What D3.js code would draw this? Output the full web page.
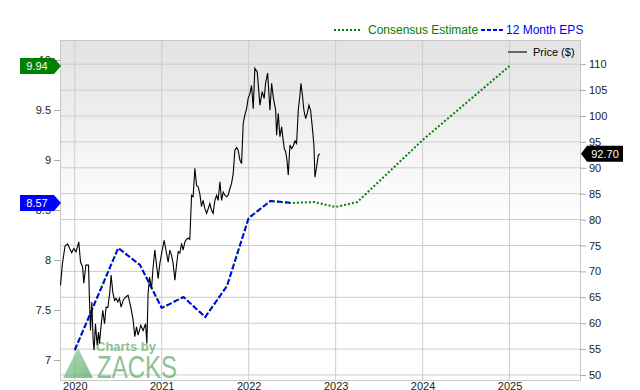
<!DOCTYPE html>
<html>
<head>
<meta charset="utf-8">
<script src="https://cdn.jsdelivr.net/npm/d3@7"></script>
<style>
  body { margin: 0; background: #fff; }
  svg { display: block; font-family: "Liberation Sans", Arial, sans-serif; }
</style>
</head>
<body>
<span></span>
<script>
// tick labels
let years = ["2020", "2021", "2022", "2023", "2024", "2025"];
let yearValues = [2020, 2021, 2022, 2023, 2024, 2025];
let epsTicks = [7, 7.5, 8, 8.5, 9, 9.5, 10];
let priceTicks = [50, 55, 60, 65, 70, 75, 80, 85, 90, 95, 100, 105, 110];

// 12 month EPS (decimal years)
let epsDates = [2020.0, 2020.5, 2020.75, 2021.0, 2021.25, 2021.5, 2021.75, 2022.0, 2022.25, 2022.5];
let epsValues = [7.10, 8.12, 7.95, 7.52, 7.63, 7.43, 7.74, 8.42, 8.59, 8.57];

// consensus estimate
let consensusDates = [2020.0, 2020.5, 2020.75, 2021.0, 2021.25, 2021.5, 2021.75, 2022.0, 2022.25, 2022.5, 2022.75, 2023.0, 2023.25, 2024.0, 2025.0];
let consensusValues = [7.10, 8.12, 7.95, 7.52, 7.63, 7.43, 7.74, 8.42, 8.59, 8.57, 8.58, 8.53, 8.58, 9.20, 9.94];

// price ($)
let priceDates = [
    2019.835, 2019.858, 2019.888, 2019.919, 2019.946, 2019.965, 2019.988, 2020.015, 2020.046, 2020.066,
    2020.089, 2020.104, 2020.127, 2020.158, 2020.169, 2020.181, 2020.196, 2020.211, 2020.222, 2020.238,
    2020.257, 2020.273, 2020.284, 2020.303, 2020.322, 2020.342, 2020.360, 2020.380, 2020.403, 2020.418,
    2020.437, 2020.457, 2020.475, 2020.495, 2020.514, 2020.533, 2020.556, 2020.572, 2020.590, 2020.613,
    2020.644, 2020.671, 2020.690, 2020.710, 2020.728, 2020.759, 2020.786, 2020.814, 2020.829, 2020.843,
    2020.860, 2020.883, 2020.901, 2020.921, 2020.940, 2020.959, 2020.978, 2021.005, 2021.028, 2021.055,
    2021.074, 2021.093, 2021.113, 2021.131, 2021.151, 2021.170, 2021.189, 2021.208, 2021.228, 2021.246,
    2021.266, 2021.285, 2021.304, 2021.323, 2021.343, 2021.361, 2021.381, 2021.400, 2021.419, 2021.438,
    2021.457, 2021.476, 2021.496, 2021.516, 2021.534, 2021.553, 2021.573, 2021.591, 2021.611, 2021.631,
    2021.649, 2021.669, 2021.688, 2021.707, 2021.726, 2021.746, 2021.764, 2021.784, 2021.803, 2021.822,
    2021.841, 2021.861, 2021.879, 2021.899, 2021.918, 2021.937, 2021.956, 2021.976, 2021.994, 2022.014,
    2022.033, 2022.052, 2022.071, 2022.098, 2022.129, 2022.155, 2022.178, 2022.194, 2022.218, 2022.244,
    2022.264, 2022.282, 2022.310, 2022.321, 2022.340, 2022.359, 2022.379, 2022.397, 2022.409, 2022.425,
    2022.440, 2022.455, 2022.474, 2022.494, 2022.512, 2022.532, 2022.551, 2022.570, 2022.589, 2022.601,
    2022.616, 2022.635, 2022.655, 2022.673, 2022.693, 2022.712, 2022.731, 2022.750, 2022.762, 2022.781,
    2022.800, 2022.819
];
let priceValues = [
    67.3, 71.5, 74.9, 75.3, 74.2, 73.6, 74.4, 73.8, 75.7, 71.8,
    70.9, 67.7, 71.2, 71.2, 64.4, 58.6, 64.1, 56.7, 54.8, 59.9,
    55.8, 58.3, 56.1, 59.6, 62.5, 59.9, 63.1, 63.0, 66.0, 69.3,
    66.0, 64.4, 64.8, 64.1, 64.8, 63.1, 64.4, 64.8, 65.1, 65.4,
    63.1, 60.6, 57.4, 59.3, 57.7, 59.6, 58.6, 59.9, 56.1, 65.7,
    68.9, 66.7, 70.9, 74.1, 71.2, 68.6, 71.5, 74.1, 76.0, 73.5,
    71.8, 74.1, 73.1, 71.5, 68.3, 71.2, 73.8, 73.5, 75.4, 74.1,
    75.7, 76.2, 76.4, 76.2, 84.7, 84.4, 89.9, 86.6, 86.3, 85.0,
    82.5, 83.7, 82.1, 81.2, 82.1, 83.1, 81.8, 81.2, 83.7, 84.7,
    83.7, 87.3, 83.7, 85.3, 84.7, 84.4, 84.7, 86.0, 87.0, 88.9,
    93.4, 93.9, 93.4, 91.5, 90.8, 98.6, 100.2, 101.4, 103.4, 104.3,
    105.9, 101.4, 109.2, 108.5, 102.1, 104.7, 103.4, 106.3, 108.3, 101.1,
    106.3, 103.7, 101.1, 96.3, 100.5, 96.0, 97.9, 95.3, 93.7, 93.1,
    91.5, 88.6, 94.4, 93.7, 94.2, 95.2, 94.7, 101.1, 104.0, 106.3,
    104.3, 101.1, 99.5, 100.5, 102.1, 101.1, 97.9, 94.4, 88.2, 90.2,
    92.4, 92.7
];

let width = 640;
let height = 390;
let plotLeft = 60, plotRight = 580, plotTop = 40, plotBottom = 380;

let svg = d3.select("span")
    .append("svg")
    .attr("width", width)
    .attr("height", height);

let x = d3.scaleLinear().domain([2019.83, 2025.81]).range([plotLeft, plotRight]);
let yEps = d3.scaleLinear().domain([6.8, 10.2]).range([plotBottom, plotTop]);
let yPrice = d3.scaleLinear().domain([49.03, 114.67]).range([plotBottom, plotTop]);

// background gradient
let defs = svg.append("defs");
let grad = defs.append("linearGradient")
    .attr("id", "bg")
    .attr("x1", 0).attr("y1", 0).attr("x2", 0).attr("y2", 1);
grad.append("stop").attr("offset", "0%").attr("stop-color", "#e3e3e3");
grad.append("stop").attr("offset", "55%").attr("stop-color", "#ffffff");

let logoGrad = defs.append("linearGradient")
    .attr("id", "logoGrad")
    .attr("x1", 0).attr("y1", 0).attr("x2", 1).attr("y2", 1);
logoGrad.append("stop").attr("offset", "0%").attr("stop-color", "#8fd19a");
logoGrad.append("stop").attr("offset", "100%").attr("stop-color", "#4fa35c");

svg.append("rect")
    .attr("x", plotLeft).attr("y", plotTop)
    .attr("width", plotRight - plotLeft).attr("height", plotBottom - plotTop)
    .style("fill", "url(#bg)");

// grid
svg.append("g").selectAll("line")
    .data(priceTicks)
    .join("line")
    .attr("x1", plotLeft).attr("x2", plotRight)
    .attr("y1", d => yPrice(d)).attr("y2", d => yPrice(d))
    .style("stroke", "#cccccc");

svg.append("g").selectAll("line")
    .data(yearValues)
    .join("line")
    .attr("x1", d => x(d)).attr("x2", d => x(d))
    .attr("y1", plotTop).attr("y2", plotBottom)
    .style("stroke", "#cccccc");

svg.append("rect")
    .attr("x", plotLeft + 0.5).attr("y", plotTop + 0.5)
    .attr("width", plotRight - plotLeft).attr("height", plotBottom - plotTop)
    .style("fill", "none")
    .style("stroke", "#c8c8c8");

// axes
function styleAxis(g) {
    g.select(".domain").remove();
    g.selectAll(".tick line").style("stroke", "#aaaaaa");
    g.selectAll(".tick text").style("fill", "#222").style("font-size", "11px")
        .style("font-family", "'Liberation Sans', Arial, sans-serif");
}

svg.append("g")
    .attr("transform", `translate(${plotLeft},0)`)
    .call(d3.axisLeft(yEps).tickValues(epsTicks).tickSize(6).tickPadding(3).tickFormat(d => d))
    .call(styleAxis);

svg.append("g")
    .attr("transform", `translate(${plotRight},0)`)
    .call(d3.axisRight(yPrice).tickValues(priceTicks).tickSize(6).tickPadding(3).tickFormat(d => d))
    .call(styleAxis);

svg.append("g")
    .attr("transform", `translate(0,${plotBottom})`)
    .call(d3.axisBottom(x).tickValues(yearValues).tickSize(0).tickPadding(2).tickFormat((d, i) => years[i]))
    .call(styleAxis);

// Zacks watermark
let logo = svg.append("g").style("opacity", 0.7);
logo.append("path")
    .attr("d", "M63,378 L78,348 L93,378 Z")
    .style("fill", "url(#logoGrad)");
logo.append("text")
    .attr("x", 96).attr("y", 351)
    .style("font-size", "13px").style("font-weight", "bold")
    .style("fill", "#5fa968")
    .text("Charts by");
logo.append("text")
    .attr("x", 97).attr("y", 378)
    .attr("textLength", 80).attr("lengthAdjust", "spacingAndGlyphs")
    .style("font-size", "31px")
    .style("fill", "#5fa968")
    .text("ZACKS");

// lines
let line = (xs, ys, yScale) => d3.line()
    .x(d => x(d[0]))
    .y(d => yScale(d[1]))(d3.zip(xs, ys));

svg.append("path")
    .attr("d", line(consensusDates, consensusValues, yEps))
    .style("fill", "none")
    .style("stroke", "#008000")
    .style("stroke-width", 2)
    .style("stroke-dasharray", "2,2");

svg.append("path")
    .attr("d", line(epsDates, epsValues, yEps))
    .style("fill", "none")
    .style("stroke", "#0000ff")
    .style("stroke-width", 2)
    .style("stroke-dasharray", "5,3");

svg.append("path")
    .attr("d", line(priceDates, priceValues, yPrice))
    .style("fill", "none")
    .style("stroke", "#000")
    .style("stroke-width", 1.1);

// value labels
function leftTag(value, color) {
    let c = yEps(value);
    let g = svg.append("g");
    g.append("path")
        .attr("d", `M20,${c - 8} L54,${c - 8} L61,${c} L54,${c + 8} L20,${c + 8} Z`)
        .style("fill", color);
    g.append("text")
        .attr("x", 37).attr("y", c + 4)
        .attr("text-anchor", "middle")
        .style("fill", "#fff").style("font-size", "11px")
        .text(d3.format(".2f")(value));
}
leftTag(consensusValues[consensusValues.length - 1], "#008000");
leftTag(epsValues[epsValues.length - 1], "#0000ff");

let lastPrice = priceValues[priceValues.length - 1];
let pc = yPrice(lastPrice);
svg.append("path")
    .attr("d", `M581,${pc} L587,${pc - 8} L623,${pc - 8} L623,${pc + 8} L587,${pc + 8} Z`)
    .style("fill", "#000");
svg.append("text")
    .attr("x", 605).attr("y", pc + 4)
    .attr("text-anchor", "middle")
    .style("fill", "#fff").style("font-size", "11px")
    .text(d3.format(".2f")(lastPrice));

// legend
svg.append("line")
    .attr("x1", 334).attr("x2", 362).attr("y1", 30).attr("y2", 30)
    .style("stroke", "#008000").style("stroke-width", 2).style("stroke-dasharray", "2,2");
svg.append("text")
    .attr("x", 368).attr("y", 34)
    .style("fill", "#008000").style("font-size", "12px")
    .text("Consensus Estimate");
svg.append("line")
    .attr("x1", 481).attr("x2", 503).attr("y1", 30).attr("y2", 30)
    .style("stroke", "#0000ff").style("stroke-width", 2).style("stroke-dasharray", "4,2");
svg.append("text")
    .attr("x", 506).attr("y", 34)
    .style("fill", "#0000ff").style("font-size", "12px")
    .text("12 Month EPS");

svg.append("line")
    .attr("x1", 508).attr("x2", 527).attr("y1", 52).attr("y2", 52)
    .style("stroke", "#666").style("stroke-width", 2);
svg.append("text")
    .attr("x", 533).attr("y", 56)
    .style("fill", "#000").style("font-size", "11px")
    .text("Price ($)");
</script>
</body>
</html>
